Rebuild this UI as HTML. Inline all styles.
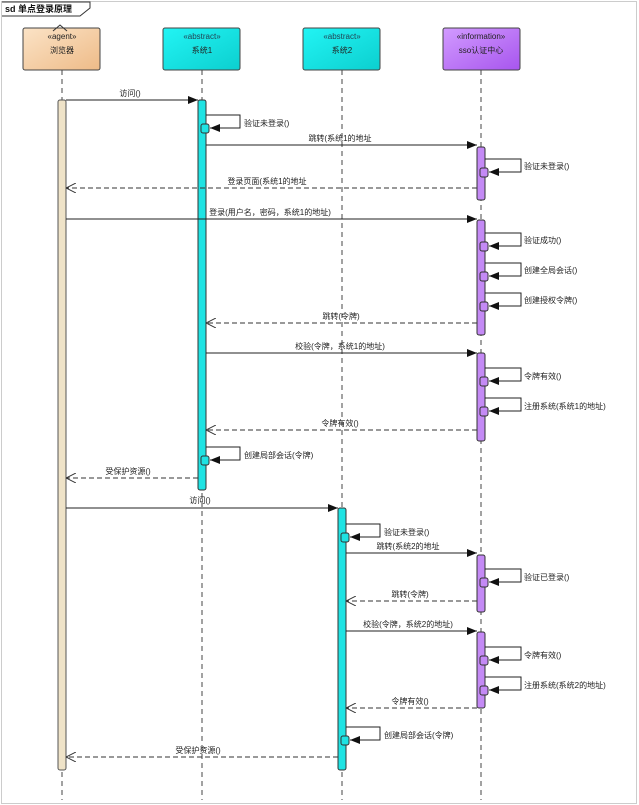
<!DOCTYPE html>
<html><head><meta charset="utf-8"><style>
html,body{margin:0;padding:0;background:#fff;}
svg{display:block;}
text{font-family:"Liberation Sans","Noto Sans CJK SC",sans-serif;font-size:8px;fill:#222;}
.lt{text-anchor:middle;}
</style></head><body>
<svg width="639" height="805" viewBox="0 0 639 805" xmlns="http://www.w3.org/2000/svg">
<defs>
<linearGradient id="gb" x1="0" y1="0" x2="1" y2="1"><stop offset="0" stop-color="#fbe3c6"/><stop offset="1" stop-color="#eebb88"/></linearGradient>
<linearGradient id="gc" x1="0" y1="0" x2="1" y2="1"><stop offset="0" stop-color="#22f4f4"/><stop offset="1" stop-color="#0ccfcf"/></linearGradient>
<linearGradient id="gp" x1="0" y1="0" x2="1" y2="1"><stop offset="0" stop-color="#d29bff"/><stop offset="1" stop-color="#a755ee"/></linearGradient>
<marker id="af" markerWidth="10" markerHeight="8" refX="10" refY="4" orient="auto" markerUnits="userSpaceOnUse"><path d="M0,0 L10,4 L0,8 z" fill="#111"/></marker>
<marker id="ao" markerWidth="10" markerHeight="10" refX="10" refY="5" orient="auto" markerUnits="userSpaceOnUse"><path d="M0,0 L10,5 L0,10" fill="none" stroke="#333" stroke-width="1"/></marker>
</defs>
<!-- frame -->
<rect x="1.5" y="1.5" width="635" height="802" fill="none" stroke="#ccc" stroke-width="1"/>
<path d="M2,2 L90,2 L90,8 L80,16 L2,16" fill="#fff" stroke="#333" stroke-width="1"/>
<text x="5" y="12" style="font-size:9px;font-weight:bold;fill:#111">sd 单点登录原理</text>

<!-- lifelines -->
<g stroke="#444" stroke-width="1" stroke-dasharray="5,4">
<line x1="62" y1="70" x2="62" y2="800"/>
<line x1="202" y1="70" x2="202" y2="800"/>
<line x1="342" y1="70" x2="342" y2="800"/>
<line x1="481" y1="70" x2="481" y2="800"/>
</g>

<!-- heads -->
<rect x="23" y="28" width="77" height="42" rx="2" fill="url(#gb)" stroke="#444"/>
<path d="M53,31 L60,25 L67,31" fill="none" stroke="#333"/>
<text class="lt" x="62" y="39">«agent»</text><text class="lt" x="62" y="53">浏览器</text>
<rect x="163" y="28" width="77" height="42" rx="2" fill="url(#gc)" stroke="#444"/>
<text class="lt" x="202" y="39" style="fill:#245">«abstract»</text><text class="lt" x="202" y="53">系统1</text>
<rect x="303" y="28" width="77" height="42" rx="2" fill="url(#gc)" stroke="#444"/>
<text class="lt" x="342" y="39" style="fill:#245">«abstract»</text><text class="lt" x="342" y="53">系统2</text>
<rect x="443" y="28" width="77" height="42" rx="2" fill="url(#gp)" stroke="#444"/>
<text class="lt" x="481" y="39">«information»</text><text class="lt" x="481" y="53">sso认证中心</text>

<!-- activations -->
<rect x="58" y="100" width="8" height="670" rx="2" fill="#efe3c8" stroke="#555"/>
<rect x="198" y="100" width="8" height="390" rx="2" fill="#1fe3e3" stroke="#333"/>
<rect x="338" y="508" width="8" height="262" rx="2" fill="#1fe3e3" stroke="#333"/>
<rect x="477" y="147" width="8" height="53" rx="2" fill="#c48af5" stroke="#333"/>
<rect x="477" y="220" width="8" height="115" rx="2" fill="#c48af5" stroke="#333"/>
<rect x="477" y="353" width="8" height="88" rx="2" fill="#c48af5" stroke="#333"/>
<rect x="477" y="555" width="8" height="57" rx="2" fill="#c48af5" stroke="#333"/>
<rect x="477" y="632" width="8" height="76" rx="2" fill="#c48af5" stroke="#333"/>

<!-- solid messages -->
<g stroke="#222" stroke-width="1" marker-end="url(#af)">
<line x1="66" y1="100" x2="198" y2="100"/>
<line x1="206" y1="145" x2="477" y2="145"/>
<line x1="66" y1="219" x2="477" y2="219"/>
<line x1="206" y1="353" x2="477" y2="353"/>
<line x1="66" y1="508" x2="338" y2="508"/>
<line x1="346" y1="553" x2="477" y2="553"/>
<line x1="346" y1="631" x2="477" y2="631"/>
</g>
<!-- dashed returns -->
<g stroke="#333" stroke-width="1" stroke-dasharray="5,3" marker-end="url(#ao)">
<line x1="477" y1="188" x2="66" y2="188"/>
<line x1="477" y1="323" x2="206" y2="323"/>
<line x1="477" y1="430" x2="206" y2="430"/>
<line x1="198" y1="478" x2="66" y2="478"/>
<line x1="477" y1="601" x2="346" y2="601"/>
<line x1="477" y1="708" x2="346" y2="708"/>
<line x1="338" y1="757" x2="66" y2="757"/>
</g>

<!-- self messages -->
<g fill="none" stroke="#222" stroke-width="1">
<path d="M206,115 H240 V128 H210" marker-end="url(#af)"/>
<path d="M485,159 H521 V172 H489" marker-end="url(#af)"/>
<path d="M485,233 H521 V246 H489" marker-end="url(#af)"/>
<path d="M485,263 H521 V276 H489" marker-end="url(#af)"/>
<path d="M485,293 H521 V306 H489" marker-end="url(#af)"/>
<path d="M485,368 H521 V381 H489" marker-end="url(#af)"/>
<path d="M485,398 H521 V411 H489" marker-end="url(#af)"/>
<path d="M206,447 H240 V460 H210" marker-end="url(#af)"/>
<path d="M346,524 H380 V537 H350" marker-end="url(#af)"/>
<path d="M485,569 H521 V582 H489" marker-end="url(#af)"/>
<path d="M485,647 H521 V660 H489" marker-end="url(#af)"/>
<path d="M485,677 H521 V690 H489" marker-end="url(#af)"/>
<path d="M346,727 H380 V740 H350" marker-end="url(#af)"/>
</g>
<g stroke="#333" stroke-width="1">
<rect x="201" y="124" width="8" height="9" rx="2" fill="#1fe3e3"/>
<rect x="201" y="456" width="8" height="9" rx="2" fill="#1fe3e3"/>
<rect x="341" y="533" width="8" height="9" rx="2" fill="#1fe3e3"/>
<rect x="341" y="736" width="8" height="9" rx="2" fill="#1fe3e3"/>
<rect x="480" y="168" width="8" height="9" rx="2" fill="#c48af5"/>
<rect x="480" y="242" width="8" height="9" rx="2" fill="#c48af5"/>
<rect x="480" y="272" width="8" height="9" rx="2" fill="#c48af5"/>
<rect x="480" y="302" width="8" height="9" rx="2" fill="#c48af5"/>
<rect x="480" y="377" width="8" height="9" rx="2" fill="#c48af5"/>
<rect x="480" y="407" width="8" height="9" rx="2" fill="#c48af5"/>
<rect x="480" y="578" width="8" height="9" rx="2" fill="#c48af5"/>
<rect x="480" y="656" width="8" height="9" rx="2" fill="#c48af5"/>
<rect x="480" y="686" width="8" height="9" rx="2" fill="#c48af5"/>
</g>

<!-- message labels -->
<text class="lt" x="130" y="96">访问()</text>
<text class="lt" x="340" y="141">跳转(系统1的地址</text>
<text class="lt" x="267" y="184">登录页面(系统1的地址</text>
<text class="lt" x="270" y="215">登录(用户名，密码，系统1的地址)</text>
<text class="lt" x="341" y="319">跳转(令牌)</text>
<text class="lt" x="340" y="349">校验(令牌，系统1的地址)</text>
<text class="lt" x="340" y="426">令牌有效()</text>
<text class="lt" x="128" y="474">受保护资源()</text>
<text class="lt" x="200" y="503">访问()</text>
<text class="lt" x="408" y="549">跳转(系统2的地址</text>
<text class="lt" x="410" y="597">跳转(令牌)</text>
<text class="lt" x="408" y="627">校验(令牌，系统2的地址)</text>
<text class="lt" x="410" y="704">令牌有效()</text>
<text class="lt" x="198" y="753">受保护资源()</text>

<!-- self labels -->
<text x="244" y="126">验证未登录()</text>
<text x="524" y="169">验证未登录()</text>
<text x="524" y="243">验证成功()</text>
<text x="524" y="273">创建全局会话()</text>
<text x="524" y="303">创建授权令牌()</text>
<text x="524" y="379">令牌有效()</text>
<text x="524" y="409">注册系统(系统1的地址)</text>
<text x="244" y="458">创建局部会话(令牌)</text>
<text x="384" y="535">验证未登录()</text>
<text x="524" y="580">验证已登录()</text>
<text x="524" y="658">令牌有效()</text>
<text x="524" y="688">注册系统(系统2的地址)</text>
<text x="384" y="738">创建局部会话(令牌)</text>
</svg>
</body></html>
